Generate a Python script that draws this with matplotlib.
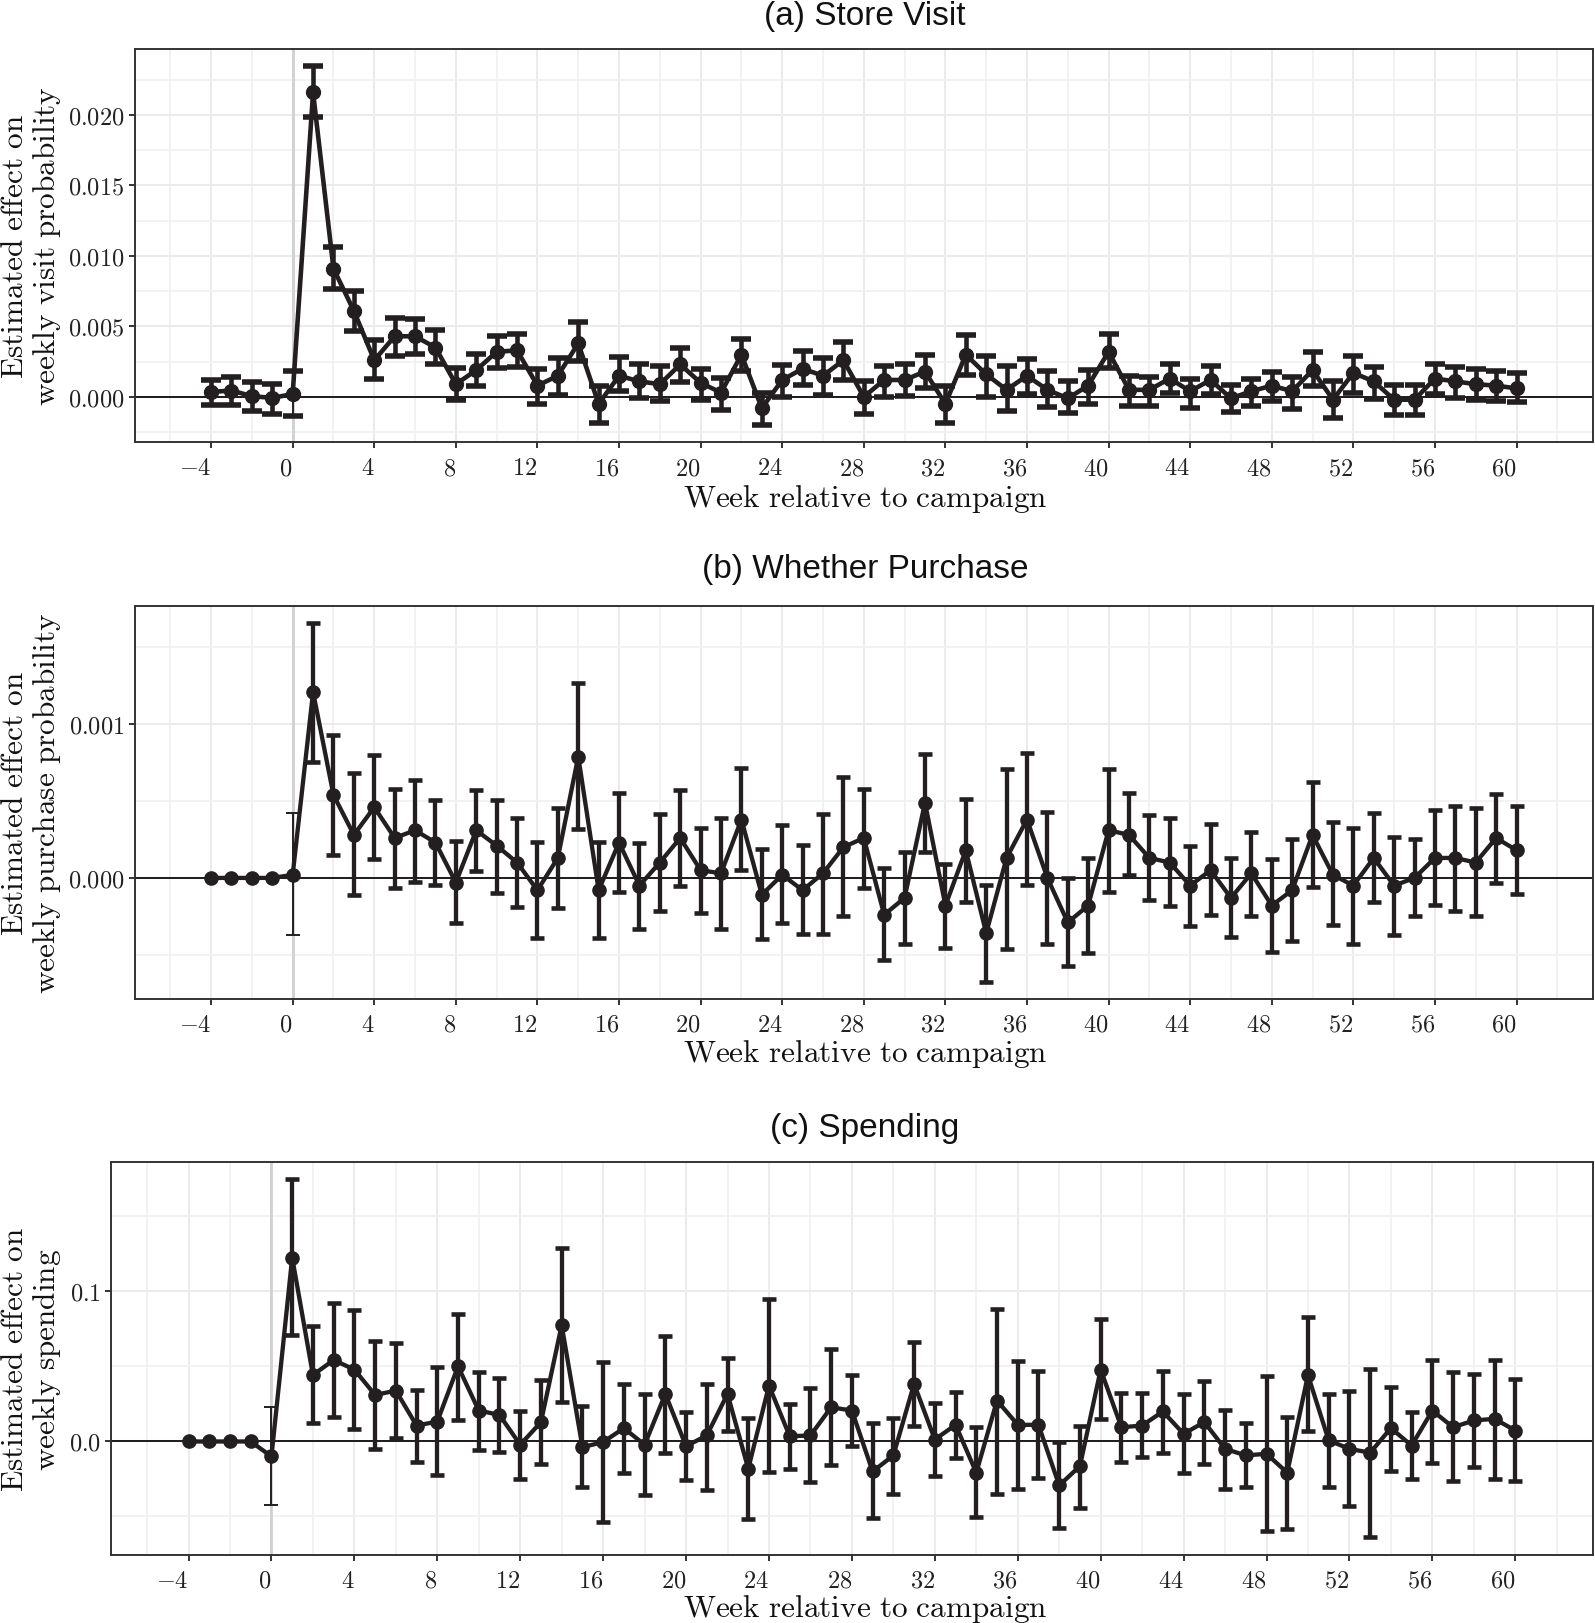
import matplotlib
matplotlib.use("Agg")
import matplotlib.pyplot as plt
import numpy as np

plt.rcParams['mathtext.fontset'] = 'cm'
plt.rcParams['font.family'] = ['Liberation Sans', 'DejaVu Sans']

# ---------------- data ----------------
weeks = list(range(-4, 61))

visit_est = [0.00035, 0.00045, 0.00005, -0.00007, 0.0002,
             0.0216, 0.0091, 0.0061, 0.0026, 0.0043, 0.0043, 0.0035, 0.0009, 0.0019, 0.0032,
             0.0033, 0.0008, 0.0015, 0.0038, -0.0005, 0.0015, 0.0011, 0.0009, 0.0023, 0.0010,
             0.0003, 0.0030, -0.0008, 0.0012, 0.0020, 0.0015, 0.0026, 0.0000, 0.0012, 0.0012,
             0.0018, -0.0005, 0.0030, 0.0016, 0.0005, 0.0015, 0.0005, -0.0001, 0.0008, 0.0032,
             0.0005, 0.0005, 0.0013, 0.0004, 0.0012, -0.0001, 0.0004, 0.0008, 0.0004, 0.0019,
             -0.0002, 0.0017, 0.0011, -0.0002, -0.0002, 0.0013, 0.0011, 0.0009, 0.0008, 0.0006]
visit_lo = [-0.00054, -0.00061, -0.0010, -0.0012, -0.00137,
            0.01983, 0.00767, 0.00465, 0.0013, 0.00288, 0.00305, 0.00234, -0.00019, 0.00076, 0.00205,
            0.0021, -0.00047, 0.00012, 0.00253, -0.00184, 0.0004, -0.00007, -0.00026, 0.00106, -0.00019,
            -0.0009, 0.00182, -0.00196, 0.0, 0.00087, 0.00012, 0.00123, -0.00118, 0.0, 0.00005,
            0.00064, -0.00184, 0.00153, 0.0, -0.0010, 0.00017, -0.00073, -0.00113, -0.0005, 0.00205,
            -0.00066, -0.00066, 0.00028, -0.00078, 0.00017, -0.00106, -0.00066, -0.0003, -0.00083, 0.00076,
            -0.00149, 0.00028, -0.00012, -0.00132, -0.00132, 0.00017, -0.00007, -0.00019, -0.00026, -0.00038]
visit_hi = [0.00118, 0.00139, 0.00104, 0.00092, 0.00187,
            0.02347, 0.01062, 0.00748, 0.00406, 0.0056, 0.00555, 0.00477, 0.00205, 0.00305, 0.0043,
            0.00446, 0.0020, 0.00276, 0.00531, 0.00076, 0.00281, 0.00234, 0.00217, 0.00347, 0.00198,
            0.00135, 0.00411, 0.00028, 0.00229, 0.00323, 0.00276, 0.0039, 0.00111, 0.00217, 0.00234,
            0.0030, 0.00076, 0.00442, 0.00288, 0.00217, 0.00272, 0.00187, 0.00116, 0.00194, 0.00446,
            0.00146, 0.00142, 0.00234, 0.0013, 0.00217, 0.00087, 0.0013, 0.00175, 0.00139, 0.00319,
            0.00111, 0.00288, 0.00212, 0.00087, 0.00083, 0.00234, 0.0021, 0.00198, 0.00182, 0.0017]

purch_est = [0.0, 0.0, 0.0, 0.0, 0.00002,
             0.00121, 0.00054, 0.00028, 0.00046, 0.00026, 0.00031, 0.00023, -0.00003, 0.00031, 0.00021,
             0.00010, -0.00008, 0.00013, 0.00079, -0.00008, 0.00023, -0.00005, 0.00010, 0.00026, 0.00005,
             0.00003, 0.00038, -0.00011, 0.00002, -0.00008, 0.00003, 0.00020, 0.00026, -0.00024, -0.00013,
             0.00049, -0.00018, 0.00018, -0.00036, 0.00013, 0.00038, 0.0, -0.00029, -0.00018, 0.00031,
             0.00028, 0.00013, 0.00010, -0.00005, 0.00005, -0.00013, 0.00003, -0.00018, -0.00008, 0.00028,
             0.00002, -0.00005, 0.00013, -0.00005, 0.0, 0.00013, 0.00013, 0.00010, 0.00026, 0.00018]
purch_lo = [0.0, 0.0, 0.0, 0.0, -0.00037,
            0.000755, 0.000148, -0.000113, 0.000126, -0.000065, -0.000026, -0.000048, -0.000291, 0.000046, -0.000095,
            -0.000187, -0.000388, -0.000193, 0.000321, -0.000388, -0.000091, -0.000334, -0.000215, -0.000052, -0.000226,
            -0.000334, 0.000052, -0.000395, -0.000291, -0.000367, -0.000367, -0.000247, -0.000063, -0.000534, -0.000432,
            0.000169, -0.000458, -0.000156, -0.000677, -0.00046, -0.000048, -0.000432, -0.000573, -0.000486, -0.000091,
            0.00002, -0.000142, -0.000182, -0.000312, -0.000243, -0.000382, -0.000247, -0.000482, -0.00041, -0.000056,
            -0.000308, -0.000432, -0.00016, -0.000373, -0.000247, -0.000178, -0.000215, -0.000247, -0.00003, -0.000106]
purch_hi = [0.0, 0.0, 0.0, 0.0, 0.00042,
            0.001657, 0.00093, 0.000681, 0.000803, 0.000581, 0.000638, 0.000508, 0.000241, 0.000573, 0.000505,
            0.000393, 0.000234, 0.000458, 0.001267, 0.000234, 0.000551, 0.00023, 0.000419, 0.000571, 0.000328,
            0.000388, 0.000718, 0.000187, 0.000343, 0.000213, 0.000414, 0.00066, 0.000577, 0.000067, 0.000171,
            0.000805, 0.000089, 0.000512, -0.000048, 0.000711, 0.000811, 0.000429, 0.000002, 0.000132, 0.000711,
            0.000551, 0.000408, 0.000393, 0.000208, 0.000349, 0.000132, 0.000302, 0.000121, 0.000256, 0.000625,
            0.000364, 0.000328, 0.000421, 0.000269, 0.000252, 0.000443, 0.000469, 0.000458, 0.000544, 0.000469]

spend_est = [0.0, 0.0, 0.0, 0.0, -0.0100,
             0.1226, 0.0443, 0.0543, 0.0479, 0.0310, 0.0339, 0.0106, 0.0133, 0.0501, 0.0206,
             0.0177, -0.0022, 0.0129, 0.0776, -0.0038, -0.0004, 0.0089, -0.0022, 0.0317, -0.0031,
             0.0040, 0.0317, -0.0182, 0.0373, 0.0035, 0.0040, 0.0228, 0.0206, -0.0200, -0.0093,
             0.0384, 0.0013, 0.0111, -0.0208, 0.0273, 0.0111, 0.0111, -0.0293, -0.0164, 0.0479,
             0.0095, 0.0106, 0.0200, 0.0051, 0.0129, -0.0049, -0.0093, -0.0082, -0.0208, 0.0443,
             0.0007, -0.0049, -0.0075, 0.0089, -0.0027, 0.0206, 0.0095, 0.0140, 0.0151, 0.0073]
spend_lo = [0.0, 0.0, 0.0, 0.0, -0.0426,
            0.0710, 0.0122, 0.0162, 0.0080, -0.0049, 0.0022, -0.0137, -0.0226, 0.0144, -0.0060,
            -0.0071, -0.0253, -0.0149, 0.0262, -0.0304, -0.0537, -0.0208, -0.0359, -0.0075, -0.0259,
            -0.0322, 0.0073, -0.0514, -0.0204, -0.0182, -0.0271, -0.0155, -0.0027, -0.0510, -0.0348,
            0.0102, -0.0231, -0.0111, -0.0503, -0.0348, -0.0315, -0.0244, -0.0576, -0.0443, 0.0151,
            -0.0137, -0.0104, -0.0075, -0.0208, -0.0149, -0.0315, -0.0304, -0.0599, -0.0581, 0.0067,
            -0.0304, -0.0430, -0.0636, -0.0200, -0.0253, -0.0142, -0.0266, -0.0171, -0.0248, -0.0266]
spend_hi = [0.0, 0.0, 0.0, 0.0, 0.0228,
            0.1752, 0.0767, 0.0920, 0.0878, 0.0672, 0.0654, 0.0346, 0.0494, 0.0849, 0.0461,
            0.0421, 0.0206, 0.0410, 0.1293, 0.0235, 0.0528, 0.0384, 0.0317, 0.0705, 0.0195,
            0.0384, 0.0557, 0.0155, 0.0953, 0.0251, 0.0355, 0.0616, 0.0443, 0.0124, 0.0155,
            0.0665, 0.0255, 0.0333, 0.0095, 0.0882, 0.0539, 0.0472, -0.0004, 0.0106, 0.0816,
            0.0322, 0.0325, 0.0472, 0.0317, 0.0406, 0.0213, 0.0122, 0.0439, 0.0162, 0.0827,
            0.0317, 0.0339, 0.0483, 0.0366, 0.0195, 0.0545, 0.0466, 0.0450, 0.0545, 0.0417]

x_ticks = list(range(-4, 61, 4))
titles = ["(a) Store Visit", "(b) Whether Purchase", "(c) Spending"]
ylabels = [("Estimated effect on", "weekly visit probability"),
           ("Estimated effect on", "weekly purchase probability"),
           ("Estimated effect on", "weekly spending")]
xlabel = "Week relative to campaign"

# ---------------- layout ----------------
W, H = 1595, 1624
fig = plt.figure(figsize=(W / 100, H / 100), dpi=100)
fig.patch.set_facecolor('white')

panels = [
    dict(box=(134.6, 49.7, 1593, 443), est=visit_est, lo=visit_lo, hi=visit_hi,
         ylim=(-0.0032, 0.0247), yticks=[0.0, 0.005, 0.010, 0.015, 0.020], fmt='{:.3f}',
         minor=[-0.0025, 0.0025, 0.0075, 0.0125, 0.0175, 0.0225], cap=7.0, capthick=4.0,
         lw=3.3, ms=10, pre_err=True, title_y=16.5, xl_y=499),
    dict(box=(134.6, 607, 1593, 999.5), est=purch_est, lo=purch_lo, hi=purch_hi,
         ylim=(-0.000785, 0.00177), yticks=[0.0, 0.001], fmt='{:.3f}',
         minor=[-0.0005, 0.0005, 0.0015], cap=4.8, capthick=3.3,
         lw=3.1, ms=9.5, pre_err=False, title_y=570, xl_y=1054),
    dict(box=(110.8, 1163, 1593, 1555.6), est=spend_est, lo=spend_lo, hi=spend_hi,
         ylim=(-0.0754, 0.1863), yticks=[0.0, 0.1], fmt='{:.1f}',
         minor=[-0.05, 0.05, 0.15], cap=4.8, capthick=3.3,
         lw=3.1, ms=9.5, pre_err=False, title_y=1129, xl_y=1609),
]

DARK = '#231f20'
label_fs = 22.5
tick_fs = 17.5

for i, p in enumerate(panels):
    l, t, r, b = p['box']
    ax = fig.add_axes([l / W, 1 - b / H, (r - l) / W, (b - t) / H])
    ax.set_xlim(-7.75, 63.75)
    ax.set_ylim(*p['ylim'])
    ax.set_facecolor('white')

    # grid
    ax.set_xticks(x_ticks)
    ax.set_xticks(list(range(-6, 63, 4)), minor=True)
    ax.set_yticks(p['yticks'])
    ax.set_yticks(p['minor'], minor=True)
    ax.grid(which='major', color='#ebebeb', lw=1.4, zorder=0)
    ax.grid(which='minor', color='#f0f0f0', lw=1.2, zorder=0)
    ax.set_axisbelow(True)
    ax.tick_params(which='minor', length=0)
    ax.tick_params(which='major', length=4.3, width=1.4, color='#333333',
                   labelsize=tick_fs, labelcolor='#222222')
    ax.tick_params(axis='x', which='major', pad=6.5)
    ax.tick_params(axis='y', which='major', pad=3)
    ax.set_xticklabels([f'${v}$' for v in x_ticks], ha='right')
    ax.set_yticklabels(['$' + p['fmt'].format(v) + '$' for v in p['yticks']])
    for s in ax.spines.values():
        s.set_color('#333333')
        s.set_linewidth(1.4)

    ax.axvline(0, color='#d0d0d0', lw=2.0, zorder=1)
    ax.axhline(0, color=DARK, lw=1.45, zorder=2)

    wk = np.array(weeks)
    est = np.array(p['est'])
    lo = np.array(p['lo'])
    hi = np.array(p['hi'])
    yerr = np.vstack([est - lo, hi - est])

    main = wk >= 1
    if p['pre_err']:
        main = main | (wk < 0)
    ax.errorbar(wk[main], est[main], yerr=yerr[:, main], fmt='none', ecolor=DARK,
                elinewidth=p['lw'], capsize=p['cap'], capthick=p['capthick'], zorder=3)
    z = wk == 0
    ax.errorbar(wk[z], est[z], yerr=yerr[:, z], fmt='none', ecolor=DARK,
                elinewidth=1.4, capsize=p['cap'],
                capthick=p['capthick'] if p['pre_err'] else 1.4, zorder=3)
    ax.plot(wk, est, color=DARK, lw=p['lw'], marker='o', ms=p['ms'], zorder=4)

    fig.text(865 / W, 1 - p['title_y'] / H, titles[i], ha='center', va='center',
             fontsize=24, color='#111111')
    fig.text(865 / W, 1 - p['xl_y'] / H, r'$\mathrm{' + xlabel.replace(' ', r'\ ') + '}$',
             ha='center', va='center', fontsize=label_fs, color='#111111')
    yc = 1 - (t + b) / 2 / H
    l1, l2 = ylabels[i]
    fig.text(15 / W, yc, r'$\mathrm{' + l1.replace(' ', r'\ ') + '}$', rotation=90,
             ha='center', va='center', fontsize=label_fs, color='#111111')
    fig.text(47 / W, yc, r'$\mathrm{' + l2.replace(' ', r'\ ') + '}$', rotation=90,
             ha='center', va='center', fontsize=label_fs, color='#111111')

fig.savefig('out.png', dpi=100, facecolor='white')
